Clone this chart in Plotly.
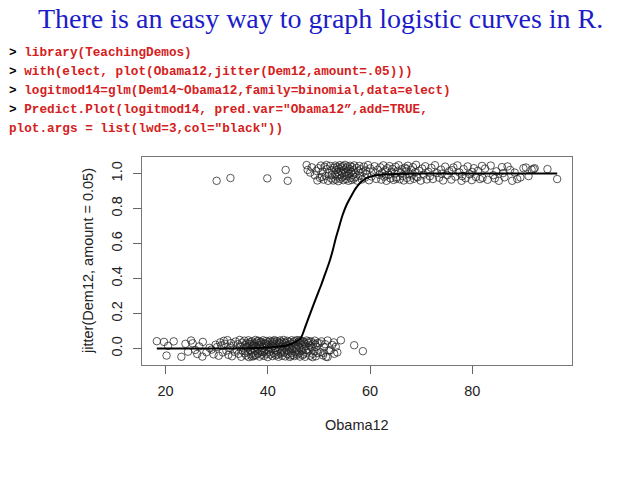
import plotly.graph_objects as go

# Obama 2012 vote share vs jittered Dem win (0/1)
bottom_points = [
    (18.3, 0.042), (19.7, 0.038), (20.2, -0.040), (20.5, 0.015), (21.6, 0.041), (23.1, -0.047), (23.9, 0.027),
    (24.4, -0.018), (25.0, 0.046), (25.3, 0.030), (25.8, -0.008), (26.2, -0.031), (26.6, 0.012), (27.3, 0.038),
    (27.2, -0.046), (28.0, -0.021), (28.6, 0.004), (29.0, -0.006), (29.4, -0.033), (29.8, 0.022),
    (30.1, 0.009), (30.4, -0.041), (30.7, 0.035), (30.9, 0.018), (31.2, -0.022), (31.4, 0.044), (31.6, 0.027),
    (31.9, -0.012), (32.1, 0.048), (32.3, -0.036), (32.6, 0.003), (32.8, 0.031), (33.0, -0.044), (33.3, 0.016),
    (33.5, -0.019), (33.7, 0.040), (33.9, -0.006), (34.1, 0.025), (34.3, -0.030), (34.5, 0.049), (34.6, 0.011),
    (34.8, -0.047), (35.0, 0.034), (35.1, -0.014), (35.3, 0.002),
    (35.4, 0.045), (35.5, -0.027), (35.6, 0.019), (35.8, -0.040), (35.9, 0.030), (36.0, 0.006), (36.1, -0.018),
    (36.2, 0.047), (36.3, -0.049), (36.4, 0.013), (36.5, 0.036), (36.6, -0.009), (36.7, -0.033), (36.8, 0.024),
    (36.9, 0.041), (37.0, -0.024), (37.1, 0.001), (37.2, -0.044), (37.3, 0.029), (37.4, 0.017), (37.5, -0.013),
    (37.6, 0.049), (37.7, -0.037), (37.8, 0.008), (37.9, 0.033), (38.0, -0.003), (38.1, -0.028), (38.2, 0.044),
    (38.3, 0.021), (38.4, -0.046), (38.5, 0.012), (38.6, -0.016), (38.7, 0.038), (38.8, -0.035), (38.9, 0.026),
    (39.0, 0.004), (39.1, 0.047), (39.2, -0.022), (39.3, -0.042), (39.4, 0.015), (39.5, 0.031), (39.6, -0.007),
    (39.7, 0.043), (39.8, -0.030), (39.9, 0.019), (36.35, 0.028), (37.45, -0.038), (38.55, 0.035), (39.35, -0.011),
    (35.75, 0.009), (36.85, -0.045), (37.95, 0.042), (38.85, -0.020), (39.65, 0.026), (37.15, 0.016),
    (40.0, -0.049), (40.1, 0.036), (40.2, 0.010), (40.3, -0.019), (40.4, 0.045), (40.5, -0.034), (40.6, 0.023),
    (40.7, -0.004), (40.8, 0.040), (40.9, -0.043), (41.0, 0.014), (41.1, 0.030), (41.2, -0.026), (41.3, 0.048),
    (41.4, -0.010), (41.5, 0.003), (41.6, -0.039), (41.7, 0.027), (41.8, 0.042), (41.9, -0.017), (42.0, 0.018),
    (42.1, -0.047), (42.2, 0.034), (42.3, -0.002), (42.4, 0.046), (42.5, -0.029), (42.6, 0.011), (42.7, 0.038),
    (42.8, -0.041), (42.9, -0.012), (43.0, 0.025), (43.1, 0.049), (43.2, -0.023), (43.3, 0.006), (43.4, -0.045),
    (43.5, 0.032), (43.6, 0.016), (43.7, -0.008), (43.8, 0.044), (43.9, -0.032), (44.0, 0.021), (44.1, -0.015),
    (44.2, 0.039), (44.3, -0.048), (44.4, 0.008), (44.5, 0.028), (44.6, -0.025), (44.7, 0.047), (44.8, -0.003),
    (44.9, -0.037), (40.45, 0.002), (41.25, 0.041), (41.95, -0.033), (42.65, -0.021), (43.25, 0.036),
    (43.85, 0.013), (44.45, -0.040), (40.85, 0.024), (42.35, 0.029), (44.15, 0.001),
    (45.0, 0.035), (45.1, 0.012), (45.2, -0.043), (45.3, 0.043), (45.4, -0.020), (45.5, 0.026), (45.6, -0.006),
    (45.7, 0.048), (45.8, -0.035), (45.9, 0.017), (46.0, 0.037), (46.1, -0.027), (46.2, 0.005), (46.3, -0.046),
    (46.4, 0.030), (46.5, 0.044), (46.6, -0.012), (46.7, 0.021), (46.8, -0.038), (46.9, 0.040), (47.0, -0.001),
    (47.2, 0.027), (47.3, -0.047), (47.4, 0.014), (47.6, 0.046), (47.7, -0.023), (47.9, 0.033), (48.0, -0.009),
    (48.2, 0.019), (48.3, -0.041), (48.5, 0.039), (48.6, 0.004), (48.8, -0.030), (48.9, 0.028), (49.1, -0.016),
    (49.2, 0.045), (49.4, -0.044), (49.5, 0.010), (49.7, 0.032), (49.8, -0.026), (45.55, 0.001), (46.25, 0.047),
    (46.95, -0.030), (47.5, -0.008), (48.1, 0.042), (48.75, -0.049), (49.3, 0.022), (45.95, -0.018),
    (47.15, 0.036), (48.45, 0.011),
    (50.1, 0.030), (50.3, -0.020), (50.5, 0.041), (50.8, -0.039), (51.0, 0.008), (51.2, 0.025), (51.4, -0.047),
    (51.7, -0.048), (51.7, 0.046), (52.0, -0.012), (52.3, -0.009), (52.6, 0.020), (53.0, -0.030), (53.3, 0.010),
    (53.6, -0.022), (54.3, 0.047), (56.9, 0.019), (58.6, -0.015), (50.9, -0.025), (52.9, 0.035),
]

top_points = [
    (30.0, 0.958), (32.7, 0.974), (39.9, 0.972), (43.5, 1.020), (43.9, 0.958),
    (47.6, 1.048), (47.8, 1.020), (48.3, 1.005), (48.6, 1.035), (49.2, 0.990), (49.7, 0.960), (49.9, 1.030),
    (50.2, 0.975), (50.4, 1.045), (50.7, 1.010), (50.9, 0.965), (51.1, 1.038), (51.3, 0.985), (51.6, 1.025),
    (51.8, 0.958), (52.0, 1.002), (52.2, 1.043), (52.4, 0.972), (52.6, 1.018), (52.8, 0.960), (53.0, 1.033),
    (52.5, 0.990), (51.5, 1.048), (49.5, 1.015), (50.6, 0.980),
    (53.1, 0.995), (53.2, 1.045), (53.3, 0.965), (53.4, 1.020), (53.5, 0.982), (53.6, 1.038), (53.7, 1.008),
    (53.8, 0.956), (53.9, 1.028), (54.0, 0.990), (54.1, 1.047), (54.2, 0.970), (54.3, 1.012), (54.4, 1.035),
    (54.5, 0.978), (54.6, 1.002), (54.7, 1.042), (54.8, 0.962), (54.9, 1.022), (55.0, 0.988), (55.1, 1.049),
    (55.2, 1.005), (55.3, 0.968), (55.4, 1.030), (55.5, 0.985), (55.6, 1.040), (55.7, 1.015), (55.8, 0.958),
    (55.9, 0.998), (56.0, 1.026), (56.1, 1.044), (56.2, 0.975), (56.3, 1.010), (56.4, 0.963), (56.5, 1.036),
    (56.6, 0.992), (56.7, 1.019), (56.8, 0.970), (56.9, 1.046), (57.0, 1.001), (57.2, 0.980), (57.4, 1.032),
    (57.5, 0.959), (57.7, 1.013), (57.9, 1.043), (58.0, 0.987), (58.2, 1.024), (58.4, 0.966), (58.6, 1.007),
    (58.8, 1.039), (59.0, 0.976), (59.2, 1.017), (59.4, 0.996), (59.6, 1.048), (59.8, 0.961), (60.0, 1.029),
    (60.3, 0.983), (60.6, 1.011), (60.9, 1.041), (61.2, 0.969), (61.5, 1.021), (61.8, 0.992),
    (62.0, 1.035), (62.2, 0.965), (62.4, 1.004), (62.6, 1.046), (62.8, 0.981), (63.0, 1.018), (63.2, 0.958),
    (63.4, 1.030), (63.6, 0.994), (63.8, 1.042), (64.0, 0.972), (64.2, 1.009), (64.4, 1.026), (64.6, 0.963),
    (64.8, 0.999), (65.0, 1.038), (65.2, 0.979), (65.4, 1.015), (65.6, 1.047), (65.8, 0.967), (66.0, 1.003),
    (66.2, 1.024), (66.4, 0.985), (66.6, 0.960), (66.8, 1.033), (67.0, 1.012), (67.2, 0.974), (67.4, 1.044),
    (67.6, 0.996), (67.8, 0.962), (68.0, 1.021), (68.2, 0.989), (68.4, 1.036), (68.6, 0.970), (68.8, 1.006),
    (69.0, 1.049), (69.3, 0.978), (69.6, 1.016), (69.9, 0.959), (70.2, 1.028), (70.5, 0.993), (70.8, 1.041),
    (71.1, 0.966), (71.4, 1.010), (71.7, 0.984), (72.0, 1.032), (63.1, 0.988), (65.1, 0.971), (67.1, 1.026),
    (69.1, 0.982),
    (72.3, 0.968), (72.7, 1.047), (73.1, 1.002), (73.5, 0.976), (73.9, 1.022), (74.3, 0.960), (74.7, 1.039),
    (75.1, 0.990), (75.5, 1.013), (75.9, 0.965), (76.3, 1.034), (76.7, 0.982), (77.1, 1.046), (77.5, 1.005),
    (77.9, 0.958), (78.3, 1.025), (78.7, 0.973), (79.1, 1.040), (79.5, 0.995), (79.9, 0.962), (80.3, 1.030),
    (80.7, 0.980), (81.1, 1.015), (81.5, 0.968), (81.9, 1.043), (74.0, 0.998), (76.0, 1.019), (78.0, 0.985),
    (80.0, 1.008), (82.0, 0.975),
    (82.5, 1.028), (83.0, 0.964), (83.6, 1.045), (84.1, 0.990), (84.7, 1.012), (85.2, 0.958), (85.8, 1.036),
    (86.3, 0.978), (86.9, 1.040), (87.4, 1.020), (87.8, 0.958), (88.3, 1.005), (88.8, 0.968), (89.4, 0.977),
    (90.0, 1.030), (90.5, 1.034), (91.0, 0.985), (91.6, 1.022), (84.4, 0.972), (86.0, 1.002),
    (92.0, 1.025), (92.2, 1.030), (94.7, 1.025), (96.6, 0.968),
]

# fitted logistic curve (Predict.Plot line)
curve_x = [18.3, 30, 38, 42, 44, 45.5, 46.4, 47.4, 48.4, 49.4, 50.4, 51.2, 52.0, 52.7, 53.3, 54.0,
           54.6, 55.4, 56.3, 57.2, 58.2, 59.2, 60.5, 62, 65, 70, 80, 96.6]
curve_y = [0.0, 0.0, 0.003, 0.01, 0.02, 0.04, 0.057, 0.13, 0.208, 0.285, 0.36, 0.425, 0.49, 0.56,
           0.63, 0.70, 0.76, 0.82, 0.87, 0.915, 0.95, 0.972, 0.986, 0.993, 0.997, 1.0, 1.0, 1.0]

x_ticks = [20, 40, 60, 80]
y_ticks = [0.0, 0.2, 0.4, 0.6, 0.8, 1.0]

title_text = "There is an easy way to graph logistic curves in R."
code_lines = [
    (True, "library(TeachingDemos)"),
    (True, "with(elect, plot(Obama12,jitter(Dem12,amount=.05)))"),
    (True, "logitmod14=glm(Dem14~Obama12,family=binomial,data=elect)"),
    (True, "Predict.Plot(logitmod14, pred.var=\"Obama12\u201d,add=TRUE,"),
    (False, "plot.args = list(lwd=3,col=\"black\"))"),
]

W, H = 638, 478
L, R, T, B = 141.7, 571.7, 156.7, 365.0


def paper(px, py):
    # page pixel -> paper coordinates
    return (px - L) / (R - L), (B - py) / (B - T)


xs = [p[0] for p in bottom_points + top_points]
ys = [p[1] for p in bottom_points + top_points]

fig = go.Figure()
fig.add_trace(
    go.Scatter(
        x=xs,
        y=ys,
        mode="markers",
        marker=dict(symbol="circle-open", size=7.5, color="rgba(35,35,35,0.75)", line=dict(width=1)),
        showlegend=False,
    )
)
fig.add_trace(
    go.Scatter(
        x=curve_x,
        y=curve_y,
        mode="lines",
        line=dict(color="black", width=2, shape="spline", smoothing=0.8),
        showlegend=False,
    )
)

axis_font = dict(family="Liberation Sans, Arial, sans-serif", size=14.5, color="#222")
common = dict(
    ticks="outside",
    ticklen=8,
    tickcolor="#666",
    tickfont=axis_font,
    showline=True,
    linecolor="#777",
    linewidth=1,
    mirror=True,
    showgrid=False,
    zeroline=False,
)
fig.update_xaxes(range=[15.4, 99.5], tickvals=x_ticks, ticktext=[str(v) for v in x_ticks],
                 ticklabelstandoff=5, **common)
fig.update_yaxes(range=[-0.094, 1.094], tickvals=y_ticks, ticktext=["%.1f" % v for v in y_ticks],
                 tickangle=-90, ticklabelstandoff=5, **common)

annotations = []


def add_text(text, px, py, font, xanchor="center", angle=0):
    x, y = paper(px, py)
    annotations.append(dict(text=text, x=x, y=y, xref="paper", yref="paper", xanchor=xanchor,
                            yanchor="middle", showarrow=False, font=font, textangle=angle))


add_text(title_text, 320, 18, dict(family="Liberation Serif, Times New Roman, serif", size=28, color="#1c1cc8"))
line_y = [52, 71, 90, 109, 128]
for (prompt, code), py in zip(code_lines, line_y):
    code_html = code.replace("<", "&lt;").replace(">", "&gt;")
    span = "<span style='color:#d42020'>" + code_html + "</span>"
    text = "<b>" + ("&gt; " if prompt else "") + span + "</b>"
    add_text(text, 7, py, dict(family="Liberation Mono, Courier New, monospace", size=12.7, color="black"),
             xanchor="left")

add_text("Obama12", 356.7, 425, axis_font)
add_text("jitter(Dem12, amount = 0.05)", 87, 260.5, axis_font, angle=-90)

fig.update_layout(
    width=W,
    height=H,
    margin=dict(l=L, r=W - R, t=T, b=H - B),
    paper_bgcolor="white",
    plot_bgcolor="white",
    annotations=annotations,
)

# drop the default 8px page margin so the figure fills the window exactly
fig.write_html(
    "out.html",
    config={"displayModeBar": False},
    post_script="document.body.style.margin='0';",
)
